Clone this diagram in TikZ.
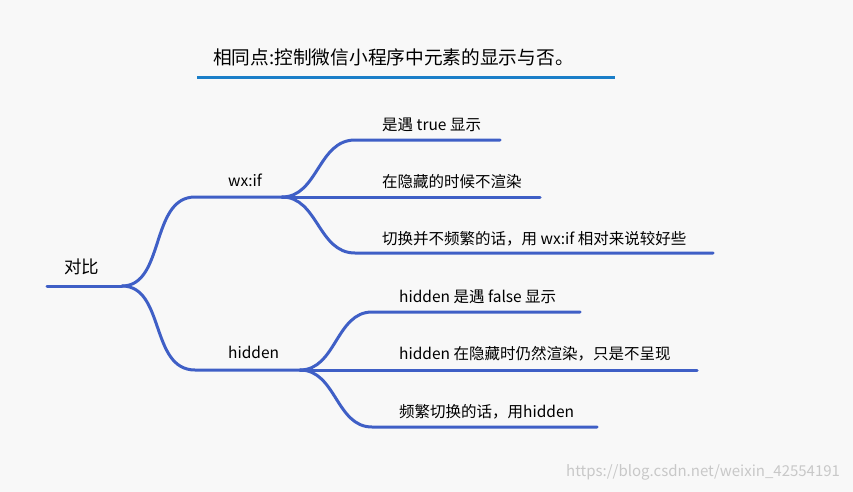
\documentclass[tikz,border=0pt]{standalone}
\usepackage{fontspec}
\setmainfont{Noto Sans CJK SC}
\begin{document}
\begin{tikzpicture}[x=1pt,y=-1pt,
  br/.style={draw=mapblue,line width=3pt,line cap=round},
  lbl/.style={anchor=base west,inner sep=0pt,font=\fontsize{15.5}{15.5}\selectfont}]
\definecolor{mapblue}{HTML}{3F5FC6}
\definecolor{ulblue}{HTML}{1A7EC8}
\fill[fill={rgb,255:red,248;green,248;blue,248}] (0,0) rectangle (853,492);
\useasboundingbox (0,0) rectangle (853,492);
% title
\node[lbl,font=\fontsize{18.7}{18.7}\selectfont] (title) at (213,65) {相同点:控制微信小程序中元素的显示与否。};
\coordinate (u1) at (197,78); \coordinate (u2) at (615,78);
\draw[ulblue,line width=3pt] (u1) -- (u2);
% root
\node[lbl,font=\fontsize{17.5}{17.5}\selectfont] (root) at (64,273) {对比};
\coordinate (r0) at (47,286); \coordinate (r1) at (122,286);
\draw[br] (r0) -- (r1);
% level 1
\coordinate (a0) at (195,197); \coordinate (a1) at (282,197);
\coordinate (b0) at (195,370); \coordinate (b1) at (300,370);
\node[lbl] (wxif) at (228,186) {wx:if};
\node[lbl] (hid) at (228,358) {hidden};
\draw[br] (r1) .. controls (165,286) and (150,197) .. (a0) -- (a1);
\draw[br] (r1) .. controls (165,286) and (150,370) .. (b0) -- (b1);
% wx:if children
\coordinate (c1s) at (355,140); \coordinate (c1e) at (500,140);
\coordinate (c2s) at (355,197); \coordinate (c2e) at (540,197);
\coordinate (c3s) at (355,253); \coordinate (c3e) at (713,253);
\draw[br] (a1) .. controls (318,197) and (318,140) .. (c1s) -- (c1e);
\draw[br] (a1) -- (c2s) -- (c2e);
\draw[br] (a1) .. controls (318,197) and (318,253) .. (c3s) -- (c3e);
\node[lbl] (t1) at (382,130) {是遇 true 显示};
\node[lbl] (t2) at (382,187) {在隐藏的时候不渲染};
\node[lbl] (t3) at (382,244) {切换并不频繁的话，用 wx:if 相对来说较好些};
% hidden children
\coordinate (d1s) at (372,312); \coordinate (d1e) at (580,312);
\coordinate (d2s) at (372,370); \coordinate (d2e) at (697,370);
\coordinate (d3s) at (372,427); \coordinate (d3e) at (597,427);
\draw[br] (b1) .. controls (336,370) and (336,312) .. (d1s) -- (d1e);
\draw[br] (b1) -- (d2s) -- (d2e);
\draw[br] (b1) .. controls (336,370) and (336,427) .. (d3s) -- (d3e);
\node[lbl] (h1) at (399,302) {hidden 是遇 false 显示};
\node[lbl] (h2) at (399,359) {hidden 在隐藏时仍然渲染，只是不呈现};
\node[lbl] (h3) at (399,417) {频繁切换的话，用hidden};
% watermark
\node[lbl,font=\fontsize{15}{15}\selectfont,text={rgb,255:red,200;green,200;blue,200}] (wm) at (566,476) {https://blog.csdn.net/weixin\_42554191};
\end{tikzpicture}
\end{document}
